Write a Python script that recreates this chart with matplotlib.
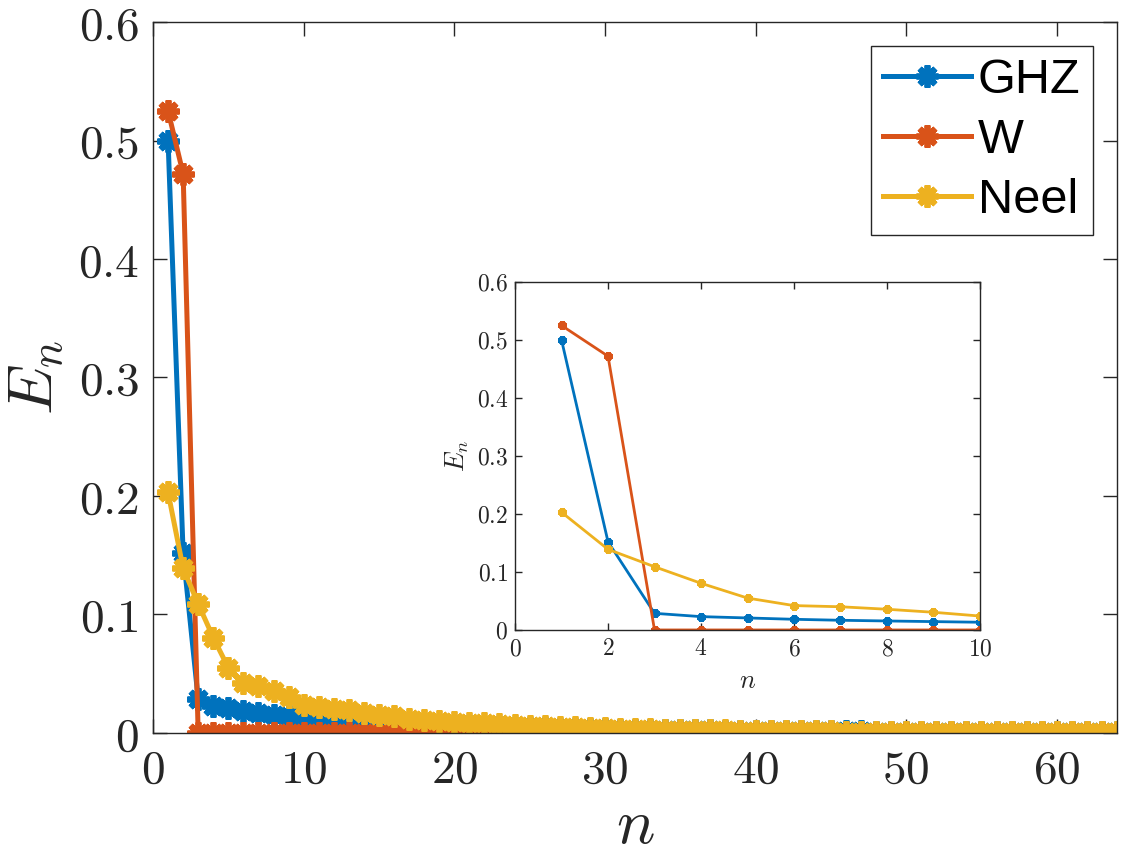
import numpy as np
import matplotlib
matplotlib.use("Agg")
import matplotlib.pyplot as plt
from matplotlib.ticker import FuncFormatter

plt.rcParams['mathtext.fontset'] = 'cm'
plt.rcParams['font.family'] = ['DejaVu Serif']

n = np.arange(1, 65)

ghz = [0.500, 0.152, 0.0287, 0.0230, 0.0207, 0.0184, 0.0167, 0.0155, 0.0144, 0.0133,
       0.0124, 0.0115, 0.0106, 0.0098, 0.0090, 0.0083, 0.0076, 0.0070, 0.0064, 0.0059,
       0.0055, 0.0051, 0.0047, 0.0044, 0.0041, 0.0038, 0.0036, 0.0034, 0.0032, 0.0030,
       0.0028, 0.0027, 0.0025, 0.0024, 0.0023, 0.0022, 0.0021, 0.0020, 0.0019, 0.0018,
       0.0017, 0.0016, 0.0015, 0.0015, 0.0014, 0.0013, 0.0013, 0.0012, 0.0012, 0.0011,
       0.0011, 0.0010, 0.0010, 0.0009, 0.0009, 0.0009, 0.0008, 0.0008, 0.0008, 0.0007,
       0.0007, 0.0007, 0.0006, 0.0006]

w_state = [0.525, 0.472] + [0.0] * 62

neel = [0.203, 0.139, 0.109, 0.0805, 0.055, 0.042, 0.040, 0.0357, 0.0305, 0.024,
        0.022, 0.020, 0.019, 0.017, 0.015, 0.014, 0.012, 0.011, 0.010, 0.0095,
        0.0088, 0.0080, 0.0074, 0.0068, 0.0062, 0.0057, 0.0052, 0.0048, 0.0044, 0.0040,
        0.0037, 0.0034, 0.0031, 0.0029, 0.0027, 0.0025, 0.0023, 0.0021, 0.0020, 0.0018,
        0.0017, 0.0016, 0.0015, 0.0014, 0.0013, 0.0012, 0.0011, 0.0011, 0.0010, 0.0009,
        0.0009, 0.0008, 0.0008, 0.0007, 0.0007, 0.0006, 0.0006, 0.0006, 0.0005, 0.0005,
        0.0005, 0.0004, 0.0004, 0.0004]

labels = ["GHZ", "W", "Neel"]
colors = ["#0072BD", "#D95319", "#EDB120"]
series = [ghz, w_state, neel]

inset_n = 10
star = (8, 2, 0)
ink = "#262626"


def mfmt(v, pos):
    s = ("%g" % round(v, 3))
    return r"$%s$" % s


def style_axes(ax, size, ticklen):
    ax.tick_params(direction="in", top=True, right=True, length=ticklen, width=1.0,
                   labelsize=size, colors=ink, pad=size * 0.3)
    for sp in ax.spines.values():
        sp.set_linewidth(1.0)
        sp.set_color(ink)
    ax.xaxis.set_major_formatter(FuncFormatter(mfmt))
    ax.yaxis.set_major_formatter(FuncFormatter(mfmt))


fig = plt.figure(figsize=(11.25, 8.67), dpi=100)
ax = fig.add_axes([0.136, 0.1546, 0.8569, 0.820])
for y, lab, c in zip(series, labels, colors):
    ax.plot(n, y, color=c, lw=3.6, marker=star, ms=16, mew=4.2, label=lab)
ax.set_xlim(0, 64)
ax.set_ylim(0, 0.6)
ax.set_xticks(np.arange(0, 61, 10))
ax.set_yticks(np.arange(0, 0.61, 0.1))
style_axes(ax, 34, 10)
ax.set_xlabel(r"$n$", fontsize=46, color=ink, labelpad=2)
ax.set_ylabel(r"$E_n$", fontsize=46, color=ink, labelpad=8)
leg = ax.legend(loc="upper right", prop={"family": "Liberation Sans", "size": 35},
                fancybox=False, framealpha=1, edgecolor=ink, borderaxespad=0.5,
                handlelength=1.8, handletextpad=0.15, labelspacing=0.3,
                borderpad=0.25)
leg.get_frame().set_linewidth(1.0)

axi = fig.add_axes([0.4578, 0.2734, 0.4133, 0.4014])
for y, c in zip(series, colors):
    axi.plot(n[:inset_n], y[:inset_n], color=c, lw=2.0, marker=star, ms=6, mew=2.8)
axi.set_xlim(0, 10)
axi.set_ylim(0, 0.6)
axi.set_xticks(np.arange(0, 11, 2))
axi.set_yticks(np.arange(0, 0.61, 0.1))
style_axes(axi, 17, 5)
axi.set_xlabel(r"$n$", fontsize=19, color=ink, labelpad=6)
axi.set_ylabel(r"$E_n$", fontsize=19, color=ink, labelpad=4)

fig.savefig("out.png", dpi=100)
